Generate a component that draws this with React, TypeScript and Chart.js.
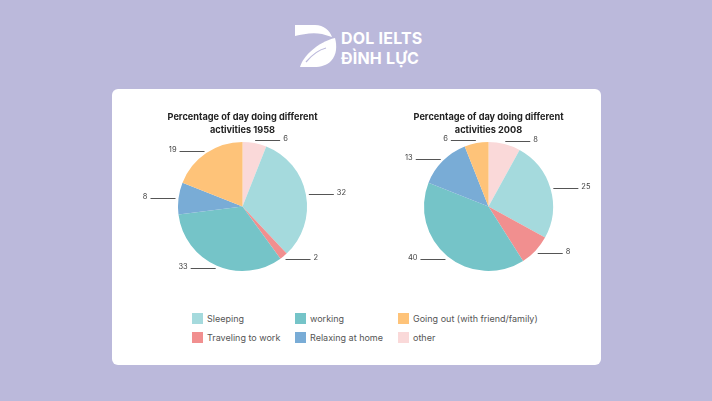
import React, { useEffect, useRef } from "react";
import { Chart, registerables } from "chart.js";

Chart.register(...registerables);

const categories = ["other", "Sleeping", "Traveling to work", "working", "Relaxing at home", "Going out (with friend/family)"];
const values1958 = [6, 32, 2, 33, 8, 19];
const values2008 = [8, 25, 8, 40, 13, 6];
const colors = ["#FAD9D9", "#A5DADD", "#F18F8F", "#75C4C8", "#79ACD6", "#FEC379"];
const title1958 = ["Percentage of day doing different", "activities 1958"];
const title2008 = ["Percentage of day doing different", "activities 2008"];
const legendOrder = [1, 3, 5, 2, 4, 0];

const FONT = "Inter, 'Noto Sans', sans-serif";

const leaderPlugin = {
  id: "leaderLabels",
  afterDatasetsDraw(chart: any) {
    const ctx = chart.ctx;
    const meta = chart.getDatasetMeta(0);
    const data = chart.data.datasets[0].data;
    ctx.save();
    meta.data.forEach((arc: any, i: number) => {
      const { x, y, startAngle, endAngle, outerRadius } = arc.getProps(["x", "y", "startAngle", "endAngle", "outerRadius"], true);
      const mid = (startAngle + endAngle) / 2;
      const r = outerRadius + 3;
      const ax = x + Math.cos(mid) * r;
      const ay = y + Math.sin(mid) * r;
      const right = Math.cos(mid) >= 0;
      const len = 25;
      const ex = right ? ax + len : ax - len;
      const ly = Math.round(ay) + 0.5;
      ctx.strokeStyle = "#555";
      ctx.lineWidth = 1;
      ctx.beginPath();
      ctx.moveTo(ax, ly);
      ctx.lineTo(ex, ly);
      ctx.stroke();
      ctx.fillStyle = "#444";
      ctx.font = `7.5px ${FONT}`;
      ctx.textBaseline = "middle";
      ctx.textAlign = right ? "left" : "right";
      ctx.fillText(String(data[i]), right ? ex + 3 : ex - 3, ly - 2);
    });
    ctx.restore();
  },
};

function PieChart({ values, title, left }: { values: number[]; title: string[]; left: number }) {
  const ref = useRef<HTMLCanvasElement>(null);
  useEffect(() => {
    const chart = new Chart(ref.current!, {
      type: "pie",
      data: {
        labels: categories,
        datasets: [{ data: values, backgroundColor: colors, borderWidth: 0 }],
      },
      options: {
        animation: false,
        responsive: false,
        maintainAspectRatio: false,
        layout: { padding: { bottom: 19 } },
        plugins: {
          legend: { display: false },
          tooltip: { enabled: false },
          title: {
            display: true,
            text: title,
            color: "#222",
            font: { family: FONT, size: 9.2, weight: "bold", lineHeight: 1.41 },
            padding: { top: 11, bottom: 5 },
          },
        },
      },
      plugins: [leaderPlugin],
    } as any);
    return () => chart.destroy();
  }, []);
  return (
    <canvas
      ref={ref}
      width={235}
      height={190}
      style={{ position: "absolute", left, top: 100, width: 235, height: 190 }}
    />
  );
}

export default function App() {
  const legendCols = [192, 295, 398];
  const legendRows = [313, 332];
  return (
    <div style={{ position: "fixed", left: 0, top: 0, width: 712, height: 401, background: "#BBB9DB", overflow: "hidden", fontFamily: FONT }}>
      <svg width={712} height={401} style={{ position: "absolute", left: 0, top: 0 }}>
        <path d="M295,25 L315,25 C324,25 330,31 332,37 L322,34 C313,32 303,34 295,36 Z" fill="#ffffff" />
        <path d="M300,67 C303,56 318,42 335,38 C337,45 337,55 331,61 C327,65 321,67 314,67 Z" fill="#ffffff" />
        <path d="M306,62 C311,56 318,50 326,48" stroke="#BBB9DB" strokeWidth={1.2} fill="none" />
      </svg>
      <div style={{ position: "absolute", left: 341, top: 28, color: "#fff", fontWeight: 700, fontSize: 16, lineHeight: "20px", letterSpacing: 0.2 }}>
        <div>DOL IELTS</div>
        <div>ĐÌNH LỰC</div>
      </div>
      <div style={{ position: "absolute", left: 112, top: 89, width: 489, height: 276, background: "#fff", borderRadius: 6 }} />
      <PieChart values={values1958} title={title1958} left={125} />
      <PieChart values={values2008} title={title2008} left={371} />
      {legendOrder.map((ci, k) => {
        const col = k % 3;
        const row = Math.floor(k / 3);
        return (
          <div key={ci} style={{ position: "absolute", left: legendCols[col], top: legendRows[row], display: "flex", alignItems: "center", height: 11 }}>
            <div style={{ width: 11, height: 11, background: colors[ci], marginRight: 4 }} />
            <span style={{ fontSize: 9, color: "#555", whiteSpace: "nowrap" }}>{categories[ci]}</span>
          </div>
        );
      })}
    </div>
  );
}
